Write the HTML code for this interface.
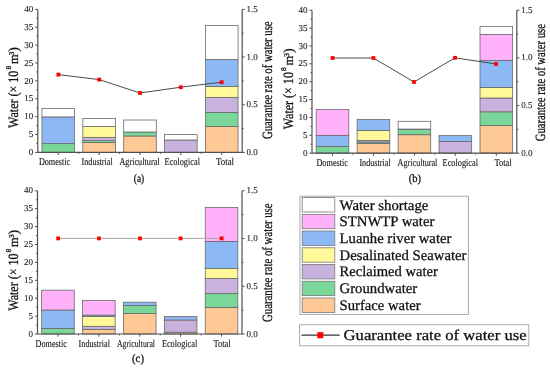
<!DOCTYPE html>
<html><head><meta charset="utf-8"><style>
html,body{margin:0;padding:0;background:#fff;}
svg{display:block;will-change:transform;}
text{stroke:#111;stroke-width:0.28px;text-rendering:geometricPrecision;}
.t{stroke:#222;stroke-width:0.1px;fill:#222;}
.c{stroke-width:0.12px;}
</style></head><body>
<svg width="550" height="368" viewBox="0 0 550 368" font-family="Liberation Serif, serif" fill="#111" stroke="none">
<rect width="550" height="368" fill="#fff"/>
<g><rect x="41.94" y="143.61" width="32.6" height="8.79" fill="#7bd699" stroke="#6a6a6a" stroke-width="0.8"/><rect x="41.94" y="116.9" width="32.6" height="26.71" fill="#8cb9f3" stroke="#6a6a6a" stroke-width="0.8"/><rect x="41.94" y="108.5" width="32.6" height="8.4" fill="#ffffff" stroke="#6a6a6a" stroke-width="0.8"/><rect x="82.82" y="142.39" width="32.6" height="10.01" fill="#ffc996" stroke="#6a6a6a" stroke-width="0.8"/><rect x="82.82" y="140.6" width="32.6" height="1.79" fill="#7bd699" stroke="#6a6a6a" stroke-width="0.8"/><rect x="82.82" y="137.38" width="32.6" height="3.22" fill="#c9b2dd" stroke="#6a6a6a" stroke-width="0.8"/><rect x="82.82" y="126.59" width="32.6" height="10.8" fill="#fff999" stroke="#6a6a6a" stroke-width="0.8"/><rect x="82.82" y="118.51" width="32.6" height="8.08" fill="#ffffff" stroke="#6a6a6a" stroke-width="0.8"/><rect x="123.7" y="135.99" width="32.6" height="16.41" fill="#ffc996" stroke="#6a6a6a" stroke-width="0.8"/><rect x="123.7" y="132.02" width="32.6" height="3.97" fill="#7bd699" stroke="#6a6a6a" stroke-width="0.8"/><rect x="123.7" y="120.01" width="32.6" height="12.01" fill="#ffffff" stroke="#6a6a6a" stroke-width="0.8"/><rect x="164.58" y="139.99" width="32.6" height="12.41" fill="#c9b2dd" stroke="#6a6a6a" stroke-width="0.8"/><rect x="164.58" y="134.6" width="32.6" height="5.4" fill="#ffffff" stroke="#6a6a6a" stroke-width="0.8"/><rect x="205.46" y="126.41" width="32.6" height="25.99" fill="#ffc996" stroke="#6a6a6a" stroke-width="0.8"/><rect x="205.46" y="112.4" width="32.6" height="14.01" fill="#7bd699" stroke="#6a6a6a" stroke-width="0.8"/><rect x="205.46" y="97.42" width="32.6" height="14.98" fill="#c9b2dd" stroke="#6a6a6a" stroke-width="0.8"/><rect x="205.46" y="86.41" width="32.6" height="11.01" fill="#fff999" stroke="#6a6a6a" stroke-width="0.8"/><rect x="205.46" y="59.41" width="32.6" height="26.99" fill="#8cb9f3" stroke="#6a6a6a" stroke-width="0.8"/><rect x="205.46" y="25.59" width="32.6" height="33.82" fill="#ffffff" stroke="#6a6a6a" stroke-width="0.8"/><path d="M37.8 9.4V152.4H242.2V9.4" fill="none" stroke="#505050" stroke-width="1.2"/><path d="M37.8 152.4h-2.6 M37.8 143.46h-1.5 M37.8 134.53h-2.6 M37.8 125.59h-1.5 M37.8 116.65h-2.6 M37.8 107.71h-1.5 M37.8 98.78h-2.6 M37.8 89.84h-1.5 M37.8 80.9h-2.6 M37.8 71.96h-1.5 M37.8 63.03h-2.6 M37.8 54.09h-1.5 M37.8 45.15h-2.6 M37.8 36.21h-1.5 M37.8 27.28h-2.6 M37.8 18.34h-1.5 M37.8 9.4h-2.6 M242.2 152.4h2.6 M242.2 128.57h1.5 M242.2 104.73h2.6 M242.2 80.9h1.5 M242.2 57.07h2.6 M242.2 33.23h1.5 M242.2 9.4h2.6 M58.24 152.4v2.6 M99.12 152.4v2.6 M140 152.4v2.6 M180.88 152.4v2.6 M221.76 152.4v2.6 M78.68 152.4v1.5 M119.56 152.4v1.5 M160.44 152.4v1.5 M201.32 152.4v1.5" stroke="#505050" stroke-width="1"/><text x="33.2" y="155" text-anchor="end" font-size="9" class="t">0</text><text x="33.2" y="137.12" text-anchor="end" font-size="9" class="t">5</text><text x="33.2" y="119.25" text-anchor="end" font-size="9" class="t">10</text><text x="33.2" y="101.38" text-anchor="end" font-size="9" class="t">15</text><text x="33.2" y="83.5" text-anchor="end" font-size="9" class="t">20</text><text x="33.2" y="65.62" text-anchor="end" font-size="9" class="t">25</text><text x="33.2" y="47.75" text-anchor="end" font-size="9" class="t">30</text><text x="33.2" y="29.88" text-anchor="end" font-size="9" class="t">35</text><text x="33.2" y="12" text-anchor="end" font-size="9" class="t">40</text><text x="246.6" y="154.9" font-size="9" class="t">0.0</text><text x="246.6" y="107.23" font-size="9" class="t">0.5</text><text x="246.6" y="59.57" font-size="9" class="t">1.0</text><text x="246.6" y="11.9" font-size="9" class="t">1.5</text><polyline points="58.4,74.6 99.2,79.6 140,93 180.8,87.2 221.6,82.2" fill="none" stroke="#4a4a4a" stroke-width="1"/><rect x="56.5" y="72.7" width="3.8" height="3.8" fill="#ff0000"/><rect x="97.3" y="77.7" width="3.8" height="3.8" fill="#ff0000"/><rect x="138.1" y="91.1" width="3.8" height="3.8" fill="#ff0000"/><rect x="178.9" y="85.3" width="3.8" height="3.8" fill="#ff0000"/><rect x="219.7" y="80.3" width="3.8" height="3.8" fill="#ff0000"/><text x="38.9" y="164.6" font-size="10.5" textLength="31.3" lengthAdjust="spacingAndGlyphs" class="c">Domestic</text><text x="81.6" y="164.6" font-size="10.5" textLength="31" lengthAdjust="spacingAndGlyphs" class="c">Industrial</text><text x="119.4" y="164.6" font-size="10.5" textLength="40.2" lengthAdjust="spacingAndGlyphs" class="c">Agricultural</text><text x="164.4" y="164.6" font-size="10.5" textLength="35.6" lengthAdjust="spacingAndGlyphs" class="c">Ecological</text><text x="216" y="164.6" font-size="10.5" textLength="18" lengthAdjust="spacingAndGlyphs" class="c">Total</text><text x="133.8" y="181.9" font-size="11.5" textLength="10.4" lengthAdjust="spacingAndGlyphs">(a)</text><g transform="translate(18.1,127.9) rotate(-90)"><text x="0" y="0" font-size="14.2" textLength="57.2" lengthAdjust="spacingAndGlyphs">Water (× 10</text><text x="58.3" y="-7.0" font-size="7.4">8</text><text x="63.8" y="0" font-size="13.2" textLength="9.6" lengthAdjust="spacingAndGlyphs">m</text><text x="72.6" y="-3.8" font-size="7.4">3</text><text x="76.2" y="0" font-size="14">)</text></g><text transform="translate(272.1,139) rotate(-90)" font-size="14.2" textLength="117.6" lengthAdjust="spacingAndGlyphs">Guarantee rate of water use</text></g><g><rect x="316.18" y="146.41" width="32.6" height="6.79" fill="#7bd699" stroke="#6a6a6a" stroke-width="0.8"/><rect x="316.18" y="135.4" width="32.6" height="11.01" fill="#8cb9f3" stroke="#6a6a6a" stroke-width="0.8"/><rect x="316.18" y="109.41" width="32.6" height="25.99" fill="#ffb1fa" stroke="#6a6a6a" stroke-width="0.8"/><rect x="357.14" y="143.51" width="32.6" height="9.69" fill="#ffc996" stroke="#6a6a6a" stroke-width="0.8"/><rect x="357.14" y="142.01" width="32.6" height="1.5" fill="#7bd699" stroke="#6a6a6a" stroke-width="0.8"/><rect x="357.14" y="140.4" width="32.6" height="1.61" fill="#c9b2dd" stroke="#6a6a6a" stroke-width="0.8"/><rect x="357.14" y="130.5" width="32.6" height="9.9" fill="#fff999" stroke="#6a6a6a" stroke-width="0.8"/><rect x="357.14" y="119.42" width="32.6" height="11.08" fill="#8cb9f3" stroke="#6a6a6a" stroke-width="0.8"/><rect x="398.1" y="134.72" width="32.6" height="18.48" fill="#ffc996" stroke="#6a6a6a" stroke-width="0.8"/><rect x="398.1" y="129.5" width="32.6" height="5.22" fill="#7bd699" stroke="#6a6a6a" stroke-width="0.8"/><rect x="398.1" y="129.07" width="32.6" height="0.43" fill="#8cb9f3" stroke="#6a6a6a" stroke-width="0.8"/><rect x="398.1" y="121.31" width="32.6" height="7.76" fill="#ffffff" stroke="#6a6a6a" stroke-width="0.8"/><rect x="439.06" y="141.4" width="32.6" height="11.8" fill="#c9b2dd" stroke="#6a6a6a" stroke-width="0.8"/><rect x="439.06" y="135.61" width="32.6" height="5.79" fill="#8cb9f3" stroke="#6a6a6a" stroke-width="0.8"/><rect x="480.02" y="125.39" width="32.6" height="27.81" fill="#ffc996" stroke="#6a6a6a" stroke-width="0.8"/><rect x="480.02" y="111.8" width="32.6" height="13.59" fill="#7bd699" stroke="#6a6a6a" stroke-width="0.8"/><rect x="480.02" y="98" width="32.6" height="13.8" fill="#c9b2dd" stroke="#6a6a6a" stroke-width="0.8"/><rect x="480.02" y="87.42" width="32.6" height="10.58" fill="#fff999" stroke="#6a6a6a" stroke-width="0.8"/><rect x="480.02" y="60.39" width="32.6" height="27.03" fill="#8cb9f3" stroke="#6a6a6a" stroke-width="0.8"/><rect x="480.02" y="34.4" width="32.6" height="25.99" fill="#ffb1fa" stroke="#6a6a6a" stroke-width="0.8"/><rect x="480.02" y="26.39" width="32.6" height="8.01" fill="#ffffff" stroke="#6a6a6a" stroke-width="0.8"/><path d="M312 10.2V153.2H516.8V10.2" fill="none" stroke="#505050" stroke-width="1.2"/><path d="M312 153.2h-2.6 M312 144.26h-1.5 M312 135.32h-2.6 M312 126.39h-1.5 M312 117.45h-2.6 M312 108.51h-1.5 M312 99.57h-2.6 M312 90.64h-1.5 M312 81.7h-2.6 M312 72.76h-1.5 M312 63.82h-2.6 M312 54.89h-1.5 M312 45.95h-2.6 M312 37.01h-1.5 M312 28.07h-2.6 M312 19.14h-1.5 M312 10.2h-2.6 M516.8 153.2h2.6 M516.8 129.37h1.5 M516.8 105.53h2.6 M516.8 81.7h1.5 M516.8 57.87h2.6 M516.8 34.03h1.5 M516.8 10.2h2.6 M332.48 153.2v2.6 M373.44 153.2v2.6 M414.4 153.2v2.6 M455.36 153.2v2.6 M496.32 153.2v2.6 M352.96 153.2v1.5 M393.92 153.2v1.5 M434.88 153.2v1.5 M475.84 153.2v1.5" stroke="#505050" stroke-width="1"/><text x="307.4" y="155.8" text-anchor="end" font-size="9" class="t">0</text><text x="307.4" y="137.92" text-anchor="end" font-size="9" class="t">5</text><text x="307.4" y="120.05" text-anchor="end" font-size="9" class="t">10</text><text x="307.4" y="102.17" text-anchor="end" font-size="9" class="t">15</text><text x="307.4" y="84.3" text-anchor="end" font-size="9" class="t">20</text><text x="307.4" y="66.42" text-anchor="end" font-size="9" class="t">25</text><text x="307.4" y="48.55" text-anchor="end" font-size="9" class="t">30</text><text x="307.4" y="30.67" text-anchor="end" font-size="9" class="t">35</text><text x="307.4" y="12.8" text-anchor="end" font-size="9" class="t">40</text><text x="521.2" y="155.7" font-size="9" class="t">0.0</text><text x="521.2" y="108.03" font-size="9" class="t">0.5</text><text x="521.2" y="60.37" font-size="9" class="t">1.0</text><text x="521.2" y="12.7" font-size="9" class="t">1.5</text><polyline points="332.6,58 373.4,58 414,82 455,57.8 496,64" fill="none" stroke="#4a4a4a" stroke-width="1"/><rect x="330.7" y="56.1" width="3.8" height="3.8" fill="#ff0000"/><rect x="371.5" y="56.1" width="3.8" height="3.8" fill="#ff0000"/><rect x="412.1" y="80.1" width="3.8" height="3.8" fill="#ff0000"/><rect x="453.1" y="55.9" width="3.8" height="3.8" fill="#ff0000"/><rect x="494.1" y="62.1" width="3.8" height="3.8" fill="#ff0000"/><text x="316.4" y="166" font-size="10.5" textLength="31.6" lengthAdjust="spacingAndGlyphs" class="c">Domestic</text><text x="359.4" y="166" font-size="10.5" textLength="31.2" lengthAdjust="spacingAndGlyphs" class="c">Industrial</text><text x="397.6" y="166" font-size="10.5" textLength="39.8" lengthAdjust="spacingAndGlyphs" class="c">Agricultural</text><text x="442.6" y="166" font-size="10.5" textLength="35.4" lengthAdjust="spacingAndGlyphs" class="c">Ecological</text><text x="494.4" y="166" font-size="10.5" textLength="17.2" lengthAdjust="spacingAndGlyphs" class="c">Total</text><text x="408.8" y="181.7" font-size="11.5" textLength="12.2" lengthAdjust="spacingAndGlyphs">(b)</text><g transform="translate(292.5,129.3) rotate(-90)"><text x="0" y="0" font-size="14.2" textLength="57.2" lengthAdjust="spacingAndGlyphs">Water (× 10</text><text x="58.3" y="-7.0" font-size="7.4">8</text><text x="63.8" y="0" font-size="13.2" textLength="9.6" lengthAdjust="spacingAndGlyphs">m</text><text x="72.6" y="-3.8" font-size="7.4">3</text><text x="76.2" y="0" font-size="14">)</text></g><text transform="translate(544.8,141.3) rotate(-90)" font-size="14.2" textLength="117.2" lengthAdjust="spacingAndGlyphs">Guarantee rate of water use</text></g><g><rect x="41.65" y="328.42" width="32.6" height="5.58" fill="#7bd699" stroke="#6a6a6a" stroke-width="0.8"/><rect x="41.65" y="310.01" width="32.6" height="18.4" fill="#8cb9f3" stroke="#6a6a6a" stroke-width="0.8"/><rect x="41.65" y="290.14" width="32.6" height="19.87" fill="#ffb1fa" stroke="#6a6a6a" stroke-width="0.8"/><rect x="82.55" y="329.31" width="32.6" height="4.69" fill="#ffc996" stroke="#6a6a6a" stroke-width="0.8"/><rect x="82.55" y="326.3" width="32.6" height="3.01" fill="#c9b2dd" stroke="#6a6a6a" stroke-width="0.8"/><rect x="82.55" y="316.6" width="32.6" height="9.7" fill="#fff999" stroke="#6a6a6a" stroke-width="0.8"/><rect x="82.55" y="315.1" width="32.6" height="1.5" fill="#8cb9f3" stroke="#6a6a6a" stroke-width="0.8"/><rect x="82.55" y="300.38" width="32.6" height="14.71" fill="#ffb1fa" stroke="#6a6a6a" stroke-width="0.8"/><rect x="123.45" y="313.59" width="32.6" height="20.41" fill="#ffc996" stroke="#6a6a6a" stroke-width="0.8"/><rect x="123.45" y="305.4" width="32.6" height="8.2" fill="#7bd699" stroke="#6a6a6a" stroke-width="0.8"/><rect x="123.45" y="302.21" width="32.6" height="3.19" fill="#8cb9f3" stroke="#6a6a6a" stroke-width="0.8"/><rect x="164.35" y="332.21" width="32.6" height="1.79" fill="#ffc996" stroke="#6a6a6a" stroke-width="0.8"/><rect x="164.35" y="320" width="32.6" height="12.21" fill="#c9b2dd" stroke="#6a6a6a" stroke-width="0.8"/><rect x="164.35" y="316.49" width="32.6" height="3.51" fill="#8cb9f3" stroke="#6a6a6a" stroke-width="0.8"/><rect x="205.25" y="307.4" width="32.6" height="26.6" fill="#ffc996" stroke="#6a6a6a" stroke-width="0.8"/><rect x="205.25" y="293.51" width="32.6" height="13.89" fill="#7bd699" stroke="#6a6a6a" stroke-width="0.8"/><rect x="205.25" y="278.4" width="32.6" height="15.11" fill="#c9b2dd" stroke="#6a6a6a" stroke-width="0.8"/><rect x="205.25" y="268.59" width="32.6" height="9.81" fill="#fff999" stroke="#6a6a6a" stroke-width="0.8"/><rect x="205.25" y="241.39" width="32.6" height="27.21" fill="#8cb9f3" stroke="#6a6a6a" stroke-width="0.8"/><rect x="205.25" y="207.41" width="32.6" height="33.97" fill="#ffb1fa" stroke="#6a6a6a" stroke-width="0.8"/><path d="M37.5 190.8V334H242V190.8" fill="none" stroke="#505050" stroke-width="1.2"/><path d="M37.5 334h-2.6 M37.5 325.05h-1.5 M37.5 316.1h-2.6 M37.5 307.15h-1.5 M37.5 298.2h-2.6 M37.5 289.25h-1.5 M37.5 280.3h-2.6 M37.5 271.35h-1.5 M37.5 262.4h-2.6 M37.5 253.45h-1.5 M37.5 244.5h-2.6 M37.5 235.55h-1.5 M37.5 226.6h-2.6 M37.5 217.65h-1.5 M37.5 208.7h-2.6 M37.5 199.75h-1.5 M37.5 190.8h-2.6 M242 334h2.6 M242 310.13h1.5 M242 286.27h2.6 M242 262.4h1.5 M242 238.53h2.6 M242 214.67h1.5 M242 190.8h2.6 M57.95 334v2.6 M98.85 334v2.6 M139.75 334v2.6 M180.65 334v2.6 M221.55 334v2.6 M78.4 334v1.5 M119.3 334v1.5 M160.2 334v1.5 M201.1 334v1.5" stroke="#505050" stroke-width="1"/><text x="32.9" y="336.6" text-anchor="end" font-size="9" class="t">0</text><text x="32.9" y="318.7" text-anchor="end" font-size="9" class="t">5</text><text x="32.9" y="300.8" text-anchor="end" font-size="9" class="t">10</text><text x="32.9" y="282.9" text-anchor="end" font-size="9" class="t">15</text><text x="32.9" y="265" text-anchor="end" font-size="9" class="t">20</text><text x="32.9" y="247.1" text-anchor="end" font-size="9" class="t">25</text><text x="32.9" y="229.2" text-anchor="end" font-size="9" class="t">30</text><text x="32.9" y="211.3" text-anchor="end" font-size="9" class="t">35</text><text x="32.9" y="193.4" text-anchor="end" font-size="9" class="t">40</text><text x="246.4" y="336.5" font-size="9" class="t">0.0</text><text x="246.4" y="288.77" font-size="9" class="t">0.5</text><text x="246.4" y="241.03" font-size="9" class="t">1.0</text><text x="246.4" y="193.3" font-size="9" class="t">1.5</text><polyline points="58.2,238.4 99,238.4 140,238.4 180.6,238.4 221.6,238.4" fill="none" stroke="#a8a8a8" stroke-width="1"/><rect x="56.3" y="236.5" width="3.8" height="3.8" fill="#ff0000"/><rect x="97.1" y="236.5" width="3.8" height="3.8" fill="#ff0000"/><rect x="138.1" y="236.5" width="3.8" height="3.8" fill="#ff0000"/><rect x="178.7" y="236.5" width="3.8" height="3.8" fill="#ff0000"/><rect x="219.7" y="236.5" width="3.8" height="3.8" fill="#ff0000"/><text x="35.6" y="346.6" font-size="10.5" textLength="31.4" lengthAdjust="spacingAndGlyphs" class="c">Domestic</text><text x="78.6" y="346.6" font-size="10.5" textLength="31.4" lengthAdjust="spacingAndGlyphs" class="c">Industrial</text><text x="117" y="346.6" font-size="10.5" textLength="38" lengthAdjust="spacingAndGlyphs" class="c">Agricultural</text><text x="161.9" y="346.6" font-size="10.5" textLength="35.3" lengthAdjust="spacingAndGlyphs" class="c">Ecological</text><text x="213.4" y="346.6" font-size="10.5" textLength="17.2" lengthAdjust="spacingAndGlyphs" class="c">Total</text><text x="132" y="362.2" font-size="11.5" textLength="12" lengthAdjust="spacingAndGlyphs">(c)</text><g transform="translate(18.1,310.7) rotate(-90)"><text x="0" y="0" font-size="14.2" textLength="57.2" lengthAdjust="spacingAndGlyphs">Water (× 10</text><text x="58.3" y="-7.0" font-size="7.4">8</text><text x="63.8" y="0" font-size="13.2" textLength="9.6" lengthAdjust="spacingAndGlyphs">m</text><text x="72.6" y="-3.8" font-size="7.4">3</text><text x="76.2" y="0" font-size="14">)</text></g><text transform="translate(272.1,322) rotate(-90)" font-size="14.2" textLength="118.6" lengthAdjust="spacingAndGlyphs">Guarantee rate of water use</text></g>
<rect x="300" y="196.2" width="168.4" height="118.2" fill="#fff" stroke="#a0a0a0" stroke-width="0.9"/><rect x="302.2" y="197.6" width="32.6" height="14.4" fill="#ffffff" stroke="#787878" stroke-width="0.8"/><text x="339.6" y="209.7" font-size="14.6" textLength="88.8" lengthAdjust="spacingAndGlyphs">Water shortage</text><rect x="302.2" y="214.33" width="32.6" height="14.4" fill="#ffb1fa" stroke="#787878" stroke-width="0.8"/><text x="339.6" y="226.35" font-size="14.6" textLength="94.8" lengthAdjust="spacingAndGlyphs">STNWTP water</text><rect x="302.2" y="231.06" width="32.6" height="14.4" fill="#8cb9f3" stroke="#787878" stroke-width="0.8"/><text x="339.6" y="243" font-size="14.6" textLength="111.8" lengthAdjust="spacingAndGlyphs">Luanhe river water</text><rect x="302.2" y="247.79" width="32.6" height="14.4" fill="#fff999" stroke="#787878" stroke-width="0.8"/><text x="339.6" y="259.65" font-size="14.6" textLength="126.8" lengthAdjust="spacingAndGlyphs">Desalinated Seawater</text><rect x="302.2" y="264.52" width="32.6" height="14.4" fill="#c9b2dd" stroke="#787878" stroke-width="0.8"/><text x="339.6" y="276.3" font-size="14.6" textLength="98.2" lengthAdjust="spacingAndGlyphs">Reclaimed water</text><rect x="302.2" y="281.25" width="32.6" height="14.4" fill="#7bd699" stroke="#787878" stroke-width="0.8"/><text x="339.6" y="292.95" font-size="14.6" textLength="77.6" lengthAdjust="spacingAndGlyphs">Groundwater</text><rect x="302.2" y="297.98" width="32.6" height="14.4" fill="#ffc996" stroke="#787878" stroke-width="0.8"/><text x="339.6" y="309.6" font-size="14.6" textLength="81" lengthAdjust="spacingAndGlyphs">Surface water</text><rect x="299.6" y="324.8" width="229.2" height="21" fill="#fff" stroke="#a0a0a0" stroke-width="0.9"/><path d="M301.5 335.2H339.6" stroke="#333" stroke-width="1.3"/><rect x="317.3" y="332.2" width="6" height="6" fill="#ff0000"/><text x="343.6" y="340.4" font-size="15" textLength="183" lengthAdjust="spacingAndGlyphs">Guarantee rate of water use</text>
</svg>
</body></html>
